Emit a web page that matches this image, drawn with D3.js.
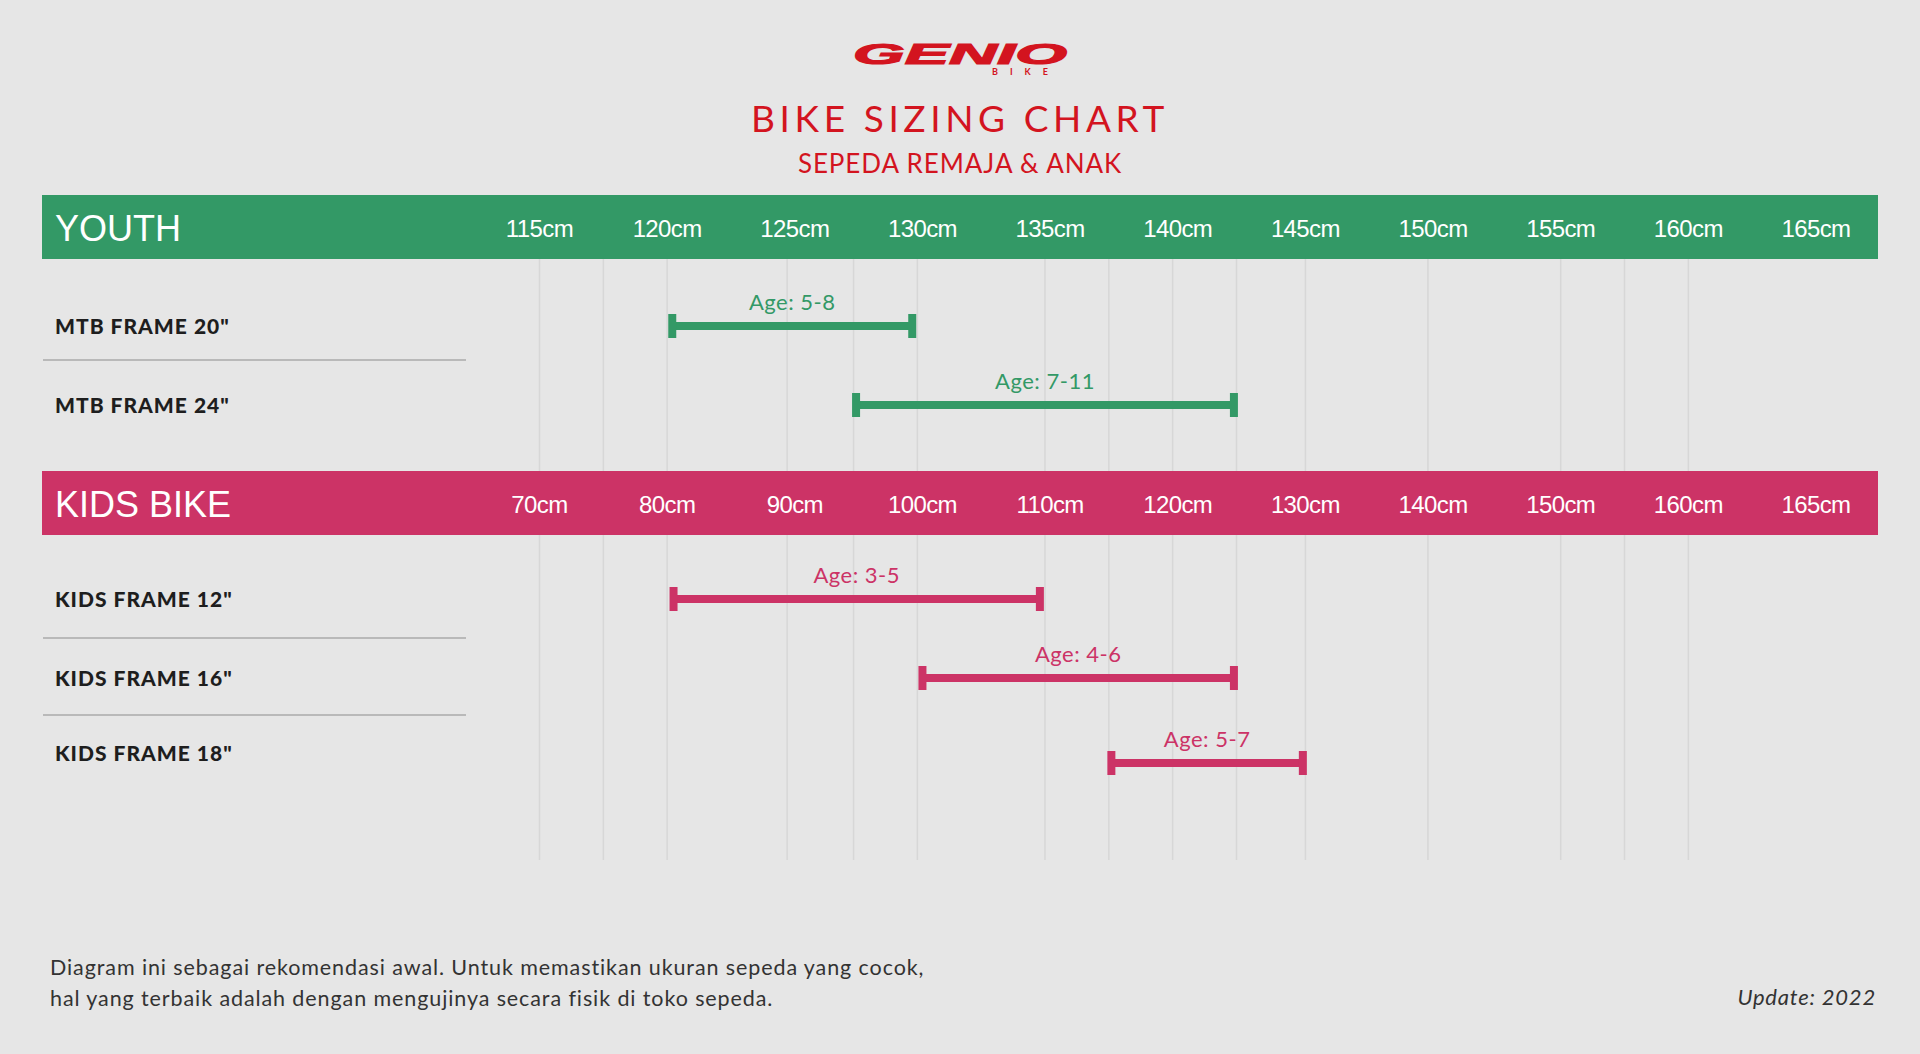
<!DOCTYPE html>
<html>
<head>
<meta charset="utf-8">
<script src="https://cdn.jsdelivr.net/npm/d3@7"></script>
<style>
  html, body { margin: 0; padding: 0; background: #e6e6e6; }
  svg { display: block; }
</style>
</head>
<body>
<svg id="chart" width="1920" height="1054"></svg>
<script>
// ---------- DATA ----------
const youthTicks = ["115cm","120cm","125cm","130cm","135cm","140cm","145cm","150cm","155cm","160cm","165cm"];
const kidsTicks  = ["70cm","80cm","90cm","100cm","110cm","120cm","130cm","140cm","150cm","160cm","165cm"];

const youthRows  = ["MTB FRAME 20\"", "MTB FRAME 24\""];
const youthStart = [120.2, 127.4];
const youthEnd   = [129.6, 142.2];
const youthAges  = ["Age: 5-8", "Age: 7-11"];

const kidsRows  = ["KIDS FRAME 12\"", "KIDS FRAME 16\"", "KIDS FRAME 18\""];
const kidsStart = [80.5, 100, 114.8];
const kidsEnd   = [109.2, 124.4, 129.8];
const kidsAges  = ["Age: 3-5", "Age: 4-6", "Age: 5-7"];

// vertical guide lines, in youth cm
const gridValues = [115, 117.5, 120, 124.7, 127.3, 129.8, 134.8, 137.3, 139.8, 142.3, 145, 149.8, 155, 157.5, 160];

const footerLines = [
  "Diagram ini sebagai rekomendasi awal. Untuk memastikan ukuran sepeda yang cocok,",
  "hal yang terbaik adalah dengan mengujinya secara fisik di toko sepeda."
];

// ---------- STYLE / LAYOUT ----------
const GREEN = "#339966", PINK = "#cc3366", RED = "#d3141f", BG = "#e6e6e6";
const W = 1920, H = 1054;
const svg = d3.select("#chart");
svg.append("rect").attr("width", W).attr("height", H).attr("fill", BG);

const tickPos = d3.scalePoint().domain(d3.range(youthTicks.length)).range([539.5, 1816]);
const youthX = d3.scaleLinear().domain([115, 165]).range([tickPos(0), tickPos(10)]);
const kidsX  = d3.scaleLinear().domain([70, 160]).range([tickPos(0), tickPos(9)]);

// ---------- HEADER / LOGO ----------
const logo = svg.append("g");
logo.append("text")
  .attr("x", 960).attr("y", 64)
  .attr("text-anchor", "middle")
  .attr("font-family", "Liberation Sans, Arial, sans-serif")
  .attr("font-weight", 900).attr("font-style", "italic")
  .attr("font-size", 29)
  .attr("textLength", 214).attr("lengthAdjust", "spacingAndGlyphs")
  .attr("fill", RED)
  .attr("stroke", RED).attr("stroke-width", 1.2)
  .text("GENIO");
logo.append("text")
  .attr("x", 1026).attr("y", 74.5)
  .attr("text-anchor", "middle")
  .attr("font-family", "Lato, sans-serif").attr("font-weight", 700)
  .attr("font-size", 9).attr("letter-spacing", 12)
  .attr("fill", RED)
  .text("BIKE");

svg.append("text")
  .attr("x", 960).attr("y", 132)
  .attr("text-anchor", "middle")
  .attr("font-family", "Lato, sans-serif").attr("font-weight", 400)
  .attr("font-size", 37).attr("letter-spacing", 4.6)
  .attr("fill", RED)
  .text("BIKE SIZING CHART");
svg.append("text")
  .attr("x", 960).attr("y", 173)
  .attr("text-anchor", "middle")
  .attr("font-family", "Lato, sans-serif").attr("font-weight", 400)
  .attr("font-size", 26).attr("letter-spacing", 0.9)
  .attr("fill", RED)
  .text("SEPEDA REMAJA & ANAK");

// ---------- GRID ----------
svg.append("g").selectAll("line").data(gridValues).join("line")
  .attr("x1", d => youthX(d)).attr("x2", d => youthX(d))
  .attr("y1", 259).attr("y2", 860)
  .attr("stroke", "#d7d7d7").attr("stroke-width", 1.5);

// ---------- SECTIONS ----------
function section(cfg) {
  const g = svg.append("g");
  g.append("rect")
    .attr("x", 42).attr("y", cfg.headerY)
    .attr("width", 1836).attr("height", 64)
    .attr("fill", cfg.color);
  g.append("text")
    .attr("x", 55).attr("y", cfg.headerY + 46)
    .attr("font-family", "Liberation Sans, Arial, sans-serif")
    .attr("font-size", 36).attr("fill", "#fff")
    .text(cfg.title);
  g.append("g").selectAll("text").data(cfg.ticks).join("text")
    .attr("x", (d, i) => tickPos(i))
    .attr("y", cfg.headerY + 42)
    .attr("text-anchor", "middle")
    .attr("font-family", "Liberation Sans, Arial, sans-serif")
    .attr("font-size", 24).attr("letter-spacing", -0.6)
    .attr("fill", "#fff")
    .text(d => d);

  g.append("g").selectAll("text").data(cfg.rows).join("text")
    .attr("x", 55).attr("y", (d, i) => cfg.labelY[i] + 8)
    .attr("font-family", "Lato, sans-serif").attr("font-weight", 900)
    .attr("font-size", 21).attr("letter-spacing", 1.0)
    .attr("fill", "#1e1e1e")
    .text(d => d);
  g.append("g").selectAll("line").data(cfg.sepY).join("line")
    .attr("x1", 43).attr("x2", 466)
    .attr("y1", d => d).attr("y2", d => d)
    .attr("stroke", "#b9b9b9").attr("stroke-width", 2);

  const bars = g.append("g").selectAll("g").data(cfg.rows).join("g");
  bars.append("line")
    .attr("x1", (d, i) => cfg.x(cfg.start[i]))
    .attr("x2", (d, i) => cfg.x(cfg.end[i]))
    .attr("y1", (d, i) => cfg.barY[i]).attr("y2", (d, i) => cfg.barY[i])
    .attr("stroke", cfg.color).attr("stroke-width", 8);
  bars.append("rect")
    .attr("x", (d, i) => cfg.x(cfg.start[i]) - 4)
    .attr("y", (d, i) => cfg.barY[i] - 12)
    .attr("width", 8).attr("height", 24)
    .attr("fill", cfg.color);
  bars.append("rect")
    .attr("x", (d, i) => cfg.x(cfg.end[i]) - 4)
    .attr("y", (d, i) => cfg.barY[i] - 12)
    .attr("width", 8).attr("height", 24)
    .attr("fill", cfg.color);
  bars.append("text")
    .attr("x", (d, i) => (cfg.x(cfg.start[i]) + cfg.x(cfg.end[i])) / 2)
    .attr("y", (d, i) => cfg.barY[i] - 16)
    .attr("text-anchor", "middle")
    .attr("font-family", "Lato, sans-serif").attr("font-weight", 400)
    .attr("font-size", 22).attr("letter-spacing", 0.5)
    .attr("fill", cfg.color)
    .text((d, i) => cfg.ages[i]);
}

section({
  title: "YOUTH", color: GREEN, headerY: 195, ticks: youthTicks,
  rows: youthRows, start: youthStart, end: youthEnd, ages: youthAges, x: youthX,
  labelY: [326, 405], barY: [326, 405], sepY: [360]
});
section({
  title: "KIDS BIKE", color: PINK, headerY: 471, ticks: kidsTicks,
  rows: kidsRows, start: kidsStart, end: kidsEnd, ages: kidsAges, x: kidsX,
  labelY: [599, 678, 753], barY: [599, 678, 763], sepY: [638, 715]
});

// ---------- FOOTER ----------
svg.append("g").selectAll("text").data(footerLines).join("text")
  .attr("x", 50).attr("y", (d, i) => 975 + i * 31)
  .attr("font-family", "Lato, sans-serif").attr("font-size", 21.5)
  .attr("letter-spacing", 0.9)
  .attr("fill", "#333")
  .text(d => d);
svg.append("text")
  .attr("x", 1876).attr("y", 1005)
  .attr("text-anchor", "end")
  .attr("font-family", "Lato, sans-serif").attr("font-style", "italic")
  .attr("font-size", 22).attr("letter-spacing", 0.8)
  .attr("fill", "#333")
  .text("Update: 2022");
</script>
</body>
</html>
